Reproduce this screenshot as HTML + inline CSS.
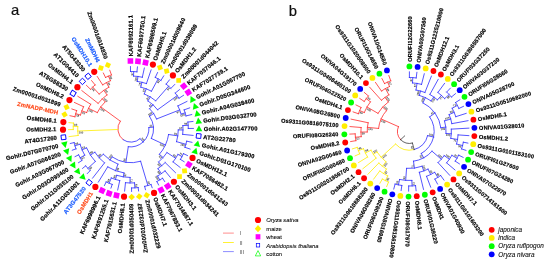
<!DOCTYPE html>
<html><head><meta charset="utf-8"><title>Phylogenetic trees</title>
<style>html,body{margin:0;padding:0;background:#fff}svg{display:block}</style></head>
<body>
<svg width="550" height="263" viewBox="0 0 550 263" font-family='"Liberation Sans", sans-serif'>
<rect width="550" height="263" fill="#fff"/>
<text x="10.9" y="15.4" font-size="14.8" fill="#111" stroke="#111" stroke-width="0.2">a</text>
<text x="288.7" y="15.7" font-size="14.8" fill="#111" stroke="#111" stroke-width="0.2">b</text>
<path d="M97.28 112.59A37.50 37.50 0 0 1 105.15 101.83M86.64 112.57A47.30 47.30 0 0 1 90.70 104.24M80.51 115.00A52.40 52.40 0 0 1 83.56 106.74M74.92 116.78A57.40 57.40 0 0 1 76.63 110.58M74.92 116.78L70.03 115.72M76.63 110.58L71.90 108.98M80.51 115.00L75.69 113.66M83.56 106.74L74.51 102.49M86.64 112.57L81.86 110.80M90.70 104.24L77.83 96.33M97.28 112.59L88.47 108.31M98.14 103.33A41.70 41.70 0 0 1 107.00 94.90M98.14 103.33L81.83 90.59M99.13 94.05A47.30 47.30 0 0 1 108.86 87.20M90.43 89.24A56.80 56.80 0 0 1 95.14 84.95M90.43 89.24L86.43 85.32M95.14 84.95L91.60 80.61M99.13 94.05L92.73 87.03M102.62 84.83A52.50 52.50 0 0 1 110.42 80.70M102.62 84.83L97.27 76.50M105.53 77.45A57.50 57.50 0 0 1 111.46 74.92M105.53 77.45L103.36 73.06M111.46 74.92L109.79 70.31M110.42 80.70L108.46 76.10M108.86 87.20L106.43 82.60M107.00 94.90L103.78 90.32M105.15 101.83L102.26 98.79M120.27 121.15L100.73 106.86M123.18 139.76A13.30 13.30 0 0 1 120.27 121.15" fill="none" stroke="#ff2a2a" stroke-width="0.8" stroke-linecap="square"/>
<path d="M78.10 135.49A53.30 53.30 0 0 1 77.76 126.54M78.10 135.49L69.06 136.60M73.20 129.57A57.80 57.80 0 0 1 73.50 123.10M73.20 129.57L68.60 129.62M73.50 123.10L68.93 122.63M77.76 126.54L73.26 126.33M117.71 129.50L77.74 131.02" fill="none" stroke="#ffee00" stroke-width="0.8" stroke-linecap="square"/>
<path d="M148.94 127.52A18.00 18.00 0 0 1 128.28 146.79M149.56 116.28A22.50 22.50 0 0 1 151.39 138.50M149.61 108.75A27.50 27.50 0 0 1 156.60 118.96M147.91 100.89A32.80 32.80 0 0 1 157.58 109.78M144.31 93.94A37.50 37.50 0 0 1 155.74 100.82M140.79 87.13A43.00 43.00 0 0 1 151.47 91.18M137.29 81.41A48.00 48.00 0 0 1 146.45 83.56M133.51 76.06A53.00 53.00 0 0 1 142.34 77.23M130.50 71.50A57.50 57.50 0 0 1 136.94 71.81M130.50 71.50L130.46 66.60M136.94 71.81L137.44 66.93M133.51 76.06L133.72 71.56M142.34 77.23L144.35 68.04M137.29 81.41L137.95 76.46M146.45 83.56L151.09 69.92M140.79 87.13L141.93 82.26M155.28 77.43A57.00 57.00 0 0 1 160.90 80.47M155.28 77.43L157.58 72.54M160.90 80.47L163.73 75.87M151.47 91.18L158.13 78.87M144.31 93.94L146.26 88.80M166.14 84.12A57.00 57.00 0 0 1 170.94 88.34M166.14 84.12L169.47 79.87M170.94 88.34L174.73 84.48M155.74 100.82L168.60 86.16M147.91 100.89L150.33 96.87M175.24 93.06A57.00 57.00 0 0 1 178.99 98.24M175.24 93.06L179.44 89.66M178.99 98.24L183.54 95.33M157.58 109.78L177.19 95.60M149.61 108.75L153.19 104.85M177.91 105.88A52.30 52.30 0 0 1 181.12 114.07M177.91 105.88L186.97 101.42M184.16 109.86A56.50 56.50 0 0 1 185.97 115.93M184.16 109.86L189.71 107.86M185.97 115.93L191.71 114.56M181.12 114.07L185.15 112.87M156.60 118.96L179.69 109.91M149.56 116.28L153.69 113.46M168.60 134.50A38.00 38.00 0 0 1 159.39 154.26M178.29 129.90A47.30 47.30 0 0 1 176.57 141.68M182.89 125.61A52.00 52.00 0 0 1 182.72 134.35M187.88 122.07A57.30 57.30 0 0 1 188.30 128.48M187.88 122.07L192.94 121.45M188.30 128.48L193.40 128.43M182.89 125.61L188.18 125.27M182.72 134.35L193.07 135.42M178.29 129.90L182.99 129.98M186.68 141.17A57.00 57.00 0 0 1 184.97 147.33M186.68 141.17L191.96 142.33M184.97 147.33L190.09 149.07M176.57 141.68L185.91 144.28M168.60 134.50L177.80 135.84M166.97 152.56A43.00 43.00 0 0 1 158.59 161.98M177.97 154.40A53.40 53.40 0 0 1 173.06 161.91M183.49 153.68A58.00 58.00 0 0 1 180.39 159.40M183.49 153.68L187.47 155.55M180.39 159.40L184.14 161.71M177.97 154.40L182.02 156.59M173.06 161.91L180.15 167.45M166.97 152.56L175.67 158.26M165.18 162.55A47.90 47.90 0 0 1 157.98 168.58M165.18 162.55L175.53 172.71M165.06 170.90A54.00 54.00 0 0 1 157.56 176.02M165.06 170.90L170.36 177.42M162.59 178.24A58.50 58.50 0 0 1 156.88 181.47M162.59 178.24L164.69 181.52M156.88 181.47L158.60 184.96M157.56 176.02L159.78 179.93M157.98 168.58L161.42 173.62M158.59 161.98L161.73 165.74M159.39 154.26L163.13 157.58M151.39 138.50L165.44 145.05M148.94 127.52L153.42 127.15M140.63 161.29A33.70 33.70 0 0 1 112.15 156.94M151.01 184.50A59.00 59.00 0 0 1 144.67 186.39M151.01 184.50L152.16 187.70M144.67 186.39L145.46 189.70M140.63 161.29L147.87 185.54M117.96 164.16A37.50 37.50 0 0 1 103.28 154.26M123.96 172.94A44.50 44.50 0 0 1 107.69 166.91M130.10 177.49A48.50 48.50 0 0 1 116.71 175.35M134.54 182.88A54.00 54.00 0 0 1 125.47 182.72M138.16 187.56A59.00 59.00 0 0 1 131.56 188.00M138.16 187.56L138.57 190.94M131.56 188.00L131.59 191.40M134.54 182.88L134.87 187.87M125.47 182.72L124.60 191.07M130.10 177.49L130.00 182.99M119.74 180.59A52.80 52.80 0 0 1 111.26 177.97M119.74 180.59L117.70 189.97M112.21 184.40A58.50 58.50 0 0 1 106.13 181.95M112.21 184.40L110.96 188.09M106.13 181.95L104.47 185.48M111.26 177.97L109.13 183.26M116.71 175.35L115.45 179.46M123.96 172.94L123.33 176.89M107.69 166.91L98.31 182.15M117.96 164.16L115.53 170.72M104.52 162.88A43.00 43.00 0 0 1 94.82 152.23M104.52 162.88L92.57 178.16M95.30 161.53A48.30 48.30 0 0 1 86.56 147.92M90.11 170.69A58.40 58.40 0 0 1 85.70 165.85M90.11 170.69L87.31 173.55M85.70 165.85L82.59 168.38M95.30 161.53L87.83 168.34M84.69 155.19A53.20 53.20 0 0 1 80.03 144.23M81.86 160.55A58.40 58.40 0 0 1 78.63 154.85M81.86 160.55L78.49 162.71M78.63 154.85L75.05 156.62M84.69 155.19L80.16 157.75M75.97 148.86A58.50 58.50 0 0 1 74.10 142.58M75.97 148.86L72.31 150.19M74.10 142.58L70.30 143.48M80.03 144.23L74.95 145.75M86.56 147.92L82.05 149.84M94.82 152.23L90.36 155.09M103.28 154.26L99.22 157.96M112.15 156.94L110.03 160.09M128.28 146.79L125.91 162.31M140.07 138.73L143.28 142.16M140.07 138.73A13.30 13.30 0 0 1 123.18 139.76" fill="none" stroke="#2a2aff" stroke-width="0.8" stroke-linecap="square"/>
<text x="76.03" y="115.41" transform="rotate(375.5 76.03 115.41)" text-anchor="start" font-size="2.8" font-weight="bold" fill="#333" dy="0.95">78</text>
<text x="82.06" y="112.58" transform="rotate(380.3 82.06 112.58)" text-anchor="start" font-size="2.8" font-weight="bold" fill="#333" dy="0.95">93</text>
<text x="88.49" y="110.09" transform="rotate(385.9 88.49 110.09)" text-anchor="start" font-size="2.8" font-weight="bold" fill="#333" dy="0.95">100</text>
<text x="92.08" y="88.70" transform="rotate(407.6 92.08 88.70)" text-anchor="start" font-size="2.8" font-weight="bold" fill="#333" dy="0.95">96</text>
<text x="110.24" y="76.21" transform="rotate(426.9 110.24 76.21)" text-anchor="start" font-size="2.8" font-weight="bold" fill="#333" dy="0.95">98</text>
<text x="108.22" y="82.56" transform="rotate(422.1 108.22 82.56)" text-anchor="start" font-size="2.8" font-weight="bold" fill="#333" dy="0.95">99</text>
<text x="105.55" y="90.05" transform="rotate(414.9 105.55 90.05)" text-anchor="start" font-size="2.8" font-weight="bold" fill="#333" dy="0.95">99</text>
<text x="103.97" y="98.26" transform="rotate(406.4 103.97 98.26)" text-anchor="start" font-size="2.8" font-weight="bold" fill="#333" dy="0.95">100</text>
<text x="100.44" y="108.62" transform="rotate(396.2 100.44 108.62)" text-anchor="start" font-size="2.8" font-weight="bold" fill="#333" dy="0.95">100</text>
<text x="74.13" y="124.77" transform="rotate(362.6 74.13 124.77)" text-anchor="start" font-size="2.8" font-weight="bold" fill="#333" dy="0.95">83</text>
<text x="78.60" y="132.59" transform="rotate(357.8 78.60 132.59)" text-anchor="start" font-size="2.8" font-weight="bold" fill="#333" dy="0.95">100</text>
<text x="132.09" y="72.29" transform="rotate(-87.3 132.09 72.29)" text-anchor="end" font-size="2.8" font-weight="bold" fill="#333" dy="0.95">97</text>
<text x="136.26" y="77.04" transform="rotate(-82.5 136.26 77.04)" text-anchor="end" font-size="2.8" font-weight="bold" fill="#333" dy="0.95">100</text>
<text x="140.19" y="82.67" transform="rotate(-76.8 140.19 82.67)" text-anchor="end" font-size="2.8" font-weight="bold" fill="#333" dy="0.95">78</text>
<text x="159.16" y="80.34" transform="rotate(-61.6 159.16 80.34)" text-anchor="end" font-size="2.8" font-weight="bold" fill="#333" dy="0.95">92</text>
<text x="144.48" y="88.98" transform="rotate(-69.2 144.48 88.98)" text-anchor="end" font-size="2.8" font-weight="bold" fill="#333" dy="0.95">97</text>
<text x="169.28" y="87.82" transform="rotate(-48.7 169.28 87.82)" text-anchor="end" font-size="2.8" font-weight="bold" fill="#333" dy="0.95">94</text>
<text x="148.55" y="96.73" transform="rotate(-59.0 148.55 96.73)" text-anchor="end" font-size="2.8" font-weight="bold" fill="#333" dy="0.95">87</text>
<text x="177.48" y="97.37" transform="rotate(-35.9 177.48 97.37)" text-anchor="end" font-size="2.8" font-weight="bold" fill="#333" dy="0.95">100</text>
<text x="151.47" y="104.36" transform="rotate(-47.4 151.47 104.36)" text-anchor="end" font-size="2.8" font-weight="bold" fill="#333" dy="0.95">61</text>
<text x="184.84" y="114.63" transform="rotate(-16.6 184.84 114.63)" text-anchor="end" font-size="2.8" font-weight="bold" fill="#333" dy="0.95">100</text>
<text x="179.53" y="111.69" transform="rotate(-21.4 179.53 111.69)" text-anchor="end" font-size="2.8" font-weight="bold" fill="#333" dy="0.95">97</text>
<text x="152.12" y="112.59" transform="rotate(-34.4 152.12 112.59)" text-anchor="end" font-size="2.8" font-weight="bold" fill="#333" dy="0.95">100</text>
<text x="187.28" y="123.72" transform="rotate(-3.7 187.28 123.72)" text-anchor="end" font-size="2.8" font-weight="bold" fill="#333" dy="0.95">99</text>
<text x="182.22" y="128.37" transform="rotate(1.1 182.22 128.37)" text-anchor="end" font-size="2.8" font-weight="bold" fill="#333" dy="0.95">97</text>
<text x="184.72" y="145.60" transform="rotate(15.5 184.72 145.60)" text-anchor="end" font-size="2.8" font-weight="bold" fill="#333" dy="0.95">100</text>
<text x="177.24" y="134.14" transform="rotate(8.3 177.24 134.14)" text-anchor="end" font-size="2.8" font-weight="bold" fill="#333" dy="0.95">91</text>
<text x="182.08" y="154.80" transform="rotate(28.4 182.08 154.80)" text-anchor="end" font-size="2.8" font-weight="bold" fill="#333" dy="0.95">77</text>
<text x="175.88" y="156.48" transform="rotate(33.2 175.88 156.48)" text-anchor="end" font-size="2.8" font-weight="bold" fill="#333" dy="0.95">92</text>
<text x="157.99" y="180.02" transform="rotate(60.5 157.99 180.02)" text-anchor="end" font-size="2.8" font-weight="bold" fill="#333" dy="0.95">100</text>
<text x="159.65" y="173.86" transform="rotate(55.7 159.65 173.86)" text-anchor="end" font-size="2.8" font-weight="bold" fill="#333" dy="0.95">99</text>
<text x="159.99" y="166.16" transform="rotate(50.1 159.99 166.16)" text-anchor="end" font-size="2.8" font-weight="bold" fill="#333" dy="0.95">69</text>
<text x="161.47" y="158.24" transform="rotate(41.7 161.47 158.24)" text-anchor="end" font-size="2.8" font-weight="bold" fill="#333" dy="0.95">82</text>
<text x="164.04" y="146.16" transform="rotate(25.0 164.04 146.16)" text-anchor="end" font-size="2.8" font-weight="bold" fill="#333" dy="0.95">100</text>
<text x="152.50" y="125.62" transform="rotate(-4.7 152.50 125.62)" text-anchor="end" font-size="2.8" font-weight="bold" fill="#333" dy="0.95">41</text>
<text x="149.17" y="184.31" transform="rotate(73.4 149.17 184.31)" text-anchor="end" font-size="2.8" font-weight="bold" fill="#333" dy="0.95">87</text>
<text x="136.41" y="186.97" transform="rotate(86.2 136.41 186.97)" text-anchor="end" font-size="2.8" font-weight="bold" fill="#333" dy="0.95">51</text>
<text x="131.61" y="182.22" transform="rotate(271.1 131.61 182.22)" text-anchor="start" font-size="2.8" font-weight="bold" fill="#333" dy="0.95">71</text>
<text x="107.95" y="181.92" transform="rotate(292.0 107.95 181.92)" text-anchor="start" font-size="2.8" font-weight="bold" fill="#333" dy="0.95">98</text>
<text x="114.15" y="178.22" transform="rotate(287.1 114.15 178.22)" text-anchor="start" font-size="2.8" font-weight="bold" fill="#333" dy="0.95">99</text>
<text x="125.04" y="176.35" transform="rotate(279.1 125.04 176.35)" text-anchor="start" font-size="2.8" font-weight="bold" fill="#333" dy="0.95">87</text>
<text x="117.31" y="170.53" transform="rotate(290.3 117.31 170.53)" text-anchor="start" font-size="2.8" font-weight="bold" fill="#333" dy="0.95">88</text>
<text x="89.50" y="168.98" transform="rotate(317.7 89.50 168.98)" text-anchor="start" font-size="2.8" font-weight="bold" fill="#333" dy="0.95">98</text>
<text x="81.65" y="158.75" transform="rotate(330.5 81.65 158.75)" text-anchor="start" font-size="2.8" font-weight="bold" fill="#333" dy="0.95">63</text>
<text x="75.26" y="143.98" transform="rotate(343.4 75.26 143.98)" text-anchor="start" font-size="2.8" font-weight="bold" fill="#333" dy="0.95">98</text>
<text x="82.16" y="148.05" transform="rotate(336.9 82.16 148.05)" text-anchor="start" font-size="2.8" font-weight="bold" fill="#333" dy="0.95">61</text>
<text x="90.16" y="153.32" transform="rotate(327.3 90.16 153.32)" text-anchor="start" font-size="2.8" font-weight="bold" fill="#333" dy="0.95">85</text>
<text x="98.73" y="156.24" transform="rotate(317.7 98.73 156.24)" text-anchor="start" font-size="2.8" font-weight="bold" fill="#333" dy="0.95">89</text>
<text x="109.15" y="158.53" transform="rotate(304.0 109.15 158.53)" text-anchor="start" font-size="2.8" font-weight="bold" fill="#333" dy="0.95">100</text>
<text x="124.44" y="161.28" transform="rotate(278.7 124.44 161.28)" text-anchor="start" font-size="2.8" font-weight="bold" fill="#333" dy="0.95">66</text>
<text x="143.90" y="140.49" transform="rotate(47.0 143.90 140.49)" text-anchor="end" font-size="2.8" font-weight="bold" fill="#333" dy="0.95">58</text>
<rect x="127.61" y="58.20" width="5.6" height="5.6" fill="#ff00ff" transform="rotate(-0.5 130.41 61.00)"/>
<text x="130.37" y="56.30" transform="rotate(-90.50 130.37 56.30)" text-anchor="start" font-size="5.85" letter-spacing="0.14" font-weight="bold" fill="#000" stroke="#000" stroke-width="0.18" dy="2.58">KAF6992161.1</text>
<rect x="135.22" y="58.56" width="5.6" height="5.6" fill="#ff00ff" transform="rotate(5.9 138.02 61.36)"/>
<text x="138.51" y="56.69" transform="rotate(-84.07 138.51 56.69)" text-anchor="start" font-size="5.85" letter-spacing="0.14" font-weight="bold" fill="#000" stroke="#000" stroke-width="0.18" dy="2.58">KAF6997750.1</text>
<rect x="142.75" y="59.77" width="5.6" height="5.6" fill="#ff00ff" transform="rotate(12.4 145.55 62.57)"/>
<text x="146.55" y="57.98" transform="rotate(-77.65 146.55 57.98)" text-anchor="start" font-size="5.85" letter-spacing="0.14" font-weight="bold" fill="#000" stroke="#000" stroke-width="0.18" dy="2.58">KAF6986509.1</text>
<circle cx="152.89" cy="64.62" r="3.1" fill="#ff0000"/>
<text x="154.41" y="60.17" transform="rotate(-71.22 154.41 60.17)" text-anchor="start" font-size="5.85" letter-spacing="0.14" font-weight="bold" fill="#000" stroke="#000" stroke-width="0.18" dy="2.58">OsMDH5.1</text>
<rect x="157.61" y="65.13" width="4.7" height="4.7" fill="#ffee00" transform="rotate(70.2 159.96 67.48)"/>
<text x="161.96" y="63.22" transform="rotate(-64.79 161.96 63.22)" text-anchor="start" font-size="5.85" letter-spacing="0.14" font-weight="bold" fill="#000" stroke="#000" stroke-width="0.18" dy="2.58">Zm00001d009640</text>
<rect x="164.32" y="68.75" width="4.7" height="4.7" fill="#ffee00" transform="rotate(76.6 166.67 71.10)"/>
<text x="169.13" y="67.10" transform="rotate(-58.37 169.13 67.10)" text-anchor="start" font-size="5.85" letter-spacing="0.14" font-weight="bold" fill="#000" stroke="#000" stroke-width="0.18" dy="2.58">Zm00001d039089</text>
<circle cx="172.92" cy="75.46" r="3.1" fill="#ff0000"/>
<text x="175.82" y="71.76" transform="rotate(-51.94 175.82 71.76)" text-anchor="start" font-size="5.85" letter-spacing="0.14" font-weight="bold" fill="#000" stroke="#000" stroke-width="0.18" dy="2.58">OsMDH1.2</text>
<rect x="176.30" y="78.14" width="4.7" height="4.7" fill="#ffee00" transform="rotate(89.5 178.65 80.49)"/>
<text x="181.95" y="77.14" transform="rotate(-45.51 181.95 77.14)" text-anchor="start" font-size="5.85" letter-spacing="0.14" font-weight="bold" fill="#000" stroke="#000" stroke-width="0.18" dy="2.58">Zm00001d044042</text>
<rect x="180.98" y="83.33" width="5.6" height="5.6" fill="#ff00ff" transform="rotate(50.9 183.78 86.13)"/>
<text x="187.43" y="83.17" transform="rotate(-39.08 187.43 83.17)" text-anchor="start" font-size="5.85" letter-spacing="0.14" font-weight="bold" fill="#000" stroke="#000" stroke-width="0.18" dy="2.58">KAF7037046.1</text>
<rect x="185.45" y="89.51" width="5.6" height="5.6" fill="#ff00ff" transform="rotate(57.3 188.25 92.31)"/>
<text x="192.21" y="89.77" transform="rotate(-32.66 192.21 89.77)" text-anchor="start" font-size="5.85" letter-spacing="0.14" font-weight="bold" fill="#000" stroke="#000" stroke-width="0.18" dy="2.58">KAF7027739.1</text>
<path d="M192.00 95.75L195.30 101.75L188.70 101.75Z" fill="#00ff00" transform="rotate(-26.2 192.00 98.95)"/>
<text x="196.21" y="96.87" transform="rotate(-26.23 196.21 96.87)" text-anchor="start" font-size="5.85" letter-spacing="0.14" font-weight="bold" fill="#000" stroke="#000" stroke-width="0.18" dy="2.58">Gohir.A01G057700</text>
<path d="M194.98 102.76L198.28 108.76L191.68 108.76Z" fill="#00ff00" transform="rotate(-19.8 194.98 105.96)"/>
<text x="199.40" y="104.37" transform="rotate(-19.80 199.40 104.37)" text-anchor="start" font-size="5.85" letter-spacing="0.14" font-weight="bold" fill="#000" stroke="#000" stroke-width="0.18" dy="2.58">Gohir.D05G344600</text>
<path d="M197.16 110.07L200.46 116.07L193.86 116.07Z" fill="#00ff00" transform="rotate(-13.4 197.16 113.27)"/>
<text x="201.73" y="112.18" transform="rotate(-13.38 201.73 112.18)" text-anchor="start" font-size="5.85" letter-spacing="0.14" font-weight="bold" fill="#000" stroke="#000" stroke-width="0.18" dy="2.58">Gohir.A04G038400</text>
<path d="M198.50 117.57L201.80 123.57L195.20 123.57Z" fill="#00ff00" transform="rotate(-6.9 198.50 120.77)"/>
<text x="203.17" y="120.20" transform="rotate(-6.95 203.17 120.20)" text-anchor="start" font-size="5.85" letter-spacing="0.14" font-weight="bold" fill="#000" stroke="#000" stroke-width="0.18" dy="2.58">Gohir.D03G032700</text>
<path d="M199.00 125.18L202.30 131.18L195.70 131.18Z" fill="#00ff00" transform="rotate(-0.5 199.00 128.38)"/>
<text x="203.70" y="128.34" transform="rotate(-0.52 203.70 128.34)" text-anchor="start" font-size="5.85" letter-spacing="0.14" font-weight="bold" fill="#000" stroke="#000" stroke-width="0.18" dy="2.58">Gohir.A02G147700</text>
<rect x="196.34" y="133.70" width="4.6" height="4.6" fill="#fff" stroke="#0000ff" stroke-width="0.9" transform="rotate(95.9 198.64 136.00)"/>
<text x="203.31" y="136.48" transform="rotate(5.91 203.31 136.48)" text-anchor="start" font-size="5.85" letter-spacing="0.14" font-weight="bold" fill="#000" stroke="#000" stroke-width="0.18" dy="2.58">AT2G22780</text>
<path d="M197.43 140.32L200.73 146.32L194.13 146.32Z" fill="#00ff00" transform="rotate(12.3 197.43 143.52)"/>
<text x="202.02" y="144.53" transform="rotate(12.33 202.02 144.53)" text-anchor="start" font-size="5.85" letter-spacing="0.14" font-weight="bold" fill="#000" stroke="#000" stroke-width="0.18" dy="2.58">Gohir.A01G179300</text>
<path d="M195.39 147.67L198.69 153.67L192.09 153.67Z" fill="#00ff00" transform="rotate(18.8 195.39 150.87)"/>
<text x="199.84" y="152.38" transform="rotate(18.76 199.84 152.38)" text-anchor="start" font-size="5.85" letter-spacing="0.14" font-weight="bold" fill="#000" stroke="#000" stroke-width="0.18" dy="2.58">Gohir.D01G170100</text>
<circle cx="192.54" cy="157.94" r="3.1" fill="#ff0000"/>
<text x="196.79" y="159.94" transform="rotate(25.19 196.79 159.94)" text-anchor="start" font-size="5.85" letter-spacing="0.14" font-weight="bold" fill="#000" stroke="#000" stroke-width="0.18" dy="2.58">OsMDH12.1</text>
<rect x="186.11" y="161.84" width="5.6" height="5.6" fill="#ff00ff" transform="rotate(121.6 188.91 164.64)"/>
<text x="192.91" y="167.11" transform="rotate(31.61 192.91 167.11)" text-anchor="start" font-size="5.85" letter-spacing="0.14" font-weight="bold" fill="#000" stroke="#000" stroke-width="0.18" dy="2.58">KAF7056482.1</text>
<rect x="182.21" y="168.55" width="4.7" height="4.7" fill="#ffee00" transform="rotate(173.0 184.56 170.90)"/>
<text x="188.26" y="173.80" transform="rotate(38.04 188.26 173.80)" text-anchor="start" font-size="5.85" letter-spacing="0.14" font-weight="bold" fill="#000" stroke="#000" stroke-width="0.18" dy="2.58">Zm00001d041243</text>
<rect x="177.18" y="174.28" width="4.7" height="4.7" fill="#ffee00" transform="rotate(179.5 179.53 176.63)"/>
<text x="182.88" y="179.93" transform="rotate(44.47 182.88 179.93)" text-anchor="start" font-size="5.85" letter-spacing="0.14" font-weight="bold" fill="#000" stroke="#000" stroke-width="0.18" dy="2.58">Zm00001d034241</text>
<circle cx="173.89" cy="181.77" r="3.1" fill="#ff0000"/>
<text x="176.86" y="185.41" transform="rotate(50.89 176.86 185.41)" text-anchor="start" font-size="5.85" letter-spacing="0.14" font-weight="bold" fill="#000" stroke="#000" stroke-width="0.18" dy="2.58">OsMDH3.1</text>
<rect x="164.92" y="183.44" width="5.6" height="5.6" fill="#ff00ff" transform="rotate(147.3 167.72 186.24)"/>
<text x="170.25" y="190.19" transform="rotate(57.32 170.25 190.19)" text-anchor="start" font-size="5.85" letter-spacing="0.14" font-weight="bold" fill="#000" stroke="#000" stroke-width="0.18" dy="2.58">KAF7014887.1</text>
<rect x="158.28" y="187.19" width="5.6" height="5.6" fill="#ff00ff" transform="rotate(153.7 161.08 189.99)"/>
<text x="163.16" y="194.20" transform="rotate(63.75 163.16 194.20)" text-anchor="start" font-size="5.85" letter-spacing="0.14" font-weight="bold" fill="#000" stroke="#000" stroke-width="0.18" dy="2.58">KAF7067893.1</text>
<circle cx="154.06" cy="192.97" r="3.1" fill="#ff0000"/>
<text x="155.66" y="197.39" transform="rotate(70.17 155.66 197.39)" text-anchor="start" font-size="5.85" letter-spacing="0.14" font-weight="bold" fill="#000" stroke="#000" stroke-width="0.18" dy="2.58">OsMDH7.1</text>
<rect x="144.41" y="192.80" width="4.7" height="4.7" fill="#ffee00" transform="rotate(211.6 146.76 195.15)"/>
<text x="147.85" y="199.72" transform="rotate(76.60 147.85 199.72)" text-anchor="start" font-size="5.85" letter-spacing="0.14" font-weight="bold" fill="#000" stroke="#000" stroke-width="0.18" dy="2.58">Zm00001d032229</text>
<rect x="136.90" y="194.15" width="4.7" height="4.7" fill="#ffee00" transform="rotate(218.0 139.25 196.50)"/>
<text x="140.04" y="202.95" transform="rotate(263.03 140.04 202.95)" text-anchor="end" font-size="5.85" letter-spacing="0.14" font-weight="bold" fill="#000" stroke="#000" stroke-width="0.18" dy="1.58">Zm00001d032187</text>
<rect x="129.30" y="194.65" width="4.7" height="4.7" fill="#ffee00" transform="rotate(224.5 131.65 197.00)"/>
<text x="131.71" y="203.50" transform="rotate(269.46 131.71 203.50)" text-anchor="end" font-size="5.85" letter-spacing="0.14" font-weight="bold" fill="#000" stroke="#000" stroke-width="0.18" dy="1.58">Zm00001d050409</text>
<circle cx="124.03" cy="196.64" r="3.1" fill="#ff0000"/>
<text x="123.36" y="203.11" transform="rotate(275.88 123.36 203.11)" text-anchor="end" font-size="5.85" letter-spacing="0.14" font-weight="bold" fill="#000" stroke="#000" stroke-width="0.18" dy="1.58">OsMDH8.1</text>
<rect x="113.70" y="192.64" width="5.6" height="5.6" fill="#ff00ff" transform="rotate(192.3 116.50 195.44)"/>
<text x="115.12" y="201.79" transform="rotate(282.31 115.12 201.79)" text-anchor="end" font-size="5.85" letter-spacing="0.14" font-weight="bold" fill="#000" stroke="#000" stroke-width="0.18" dy="1.58">KAF7015631.1</text>
<rect x="106.36" y="190.60" width="5.6" height="5.6" fill="#ff00ff" transform="rotate(198.7 109.16 193.40)"/>
<text x="107.07" y="199.55" transform="rotate(288.74 107.07 199.55)" text-anchor="end" font-size="5.85" letter-spacing="0.14" font-weight="bold" fill="#000" stroke="#000" stroke-width="0.18" dy="1.58">KAF6991255.1</text>
<rect x="99.29" y="187.75" width="5.6" height="5.6" fill="#ff00ff" transform="rotate(205.2 102.09 190.55)"/>
<text x="99.32" y="196.43" transform="rotate(295.16 99.32 196.43)" text-anchor="end" font-size="5.85" letter-spacing="0.14" font-weight="bold" fill="#000" stroke="#000" stroke-width="0.18" dy="1.58">KAF6998996.1</text>
<circle cx="95.38" cy="186.92" r="3.1" fill="#ff0000"/>
<text x="91.97" y="192.46" transform="rotate(301.59 91.97 192.46)" text-anchor="end" font-size="5.85" letter-spacing="0.14" font-weight="bold" fill="#ff4a1a" stroke="#ff4a1a" stroke-width="0.18" dy="1.58">OsMDH1</text>
<rect x="86.82" y="180.27" width="4.6" height="4.6" fill="#fff" stroke="#0000ff" stroke-width="0.9" transform="rotate(218.0 89.12 182.57)"/>
<text x="85.11" y="187.69" transform="rotate(308.02 85.11 187.69)" text-anchor="end" font-size="5.85" letter-spacing="0.14" font-weight="bold" fill="#1a5cff" stroke="#1a5cff" stroke-width="0.18" dy="1.58">AT3G47520</text>
<path d="M83.38 174.35L86.68 180.35L80.08 180.35Z" fill="#00ff00" transform="rotate(134.4 83.38 177.55)"/>
<text x="78.83" y="182.19" transform="rotate(314.44 78.83 182.19)" text-anchor="end" font-size="5.85" letter-spacing="0.14" font-weight="bold" fill="#000" stroke="#000" stroke-width="0.18" dy="1.58">Gohir.A11G031001</text>
<path d="M78.25 168.71L81.55 174.71L74.95 174.71Z" fill="#00ff00" transform="rotate(140.9 78.25 171.91)"/>
<text x="73.21" y="176.01" transform="rotate(320.87 73.21 176.01)" text-anchor="end" font-size="5.85" letter-spacing="0.14" font-weight="bold" fill="#000" stroke="#000" stroke-width="0.18" dy="1.58">Gohir.D11G035100</text>
<path d="M73.78 162.54L77.08 168.54L70.48 168.54Z" fill="#00ff00" transform="rotate(147.3 73.78 165.74)"/>
<text x="68.31" y="169.25" transform="rotate(327.30 68.31 169.25)" text-anchor="end" font-size="5.85" letter-spacing="0.14" font-weight="bold" fill="#000" stroke="#000" stroke-width="0.18" dy="1.58">Gohir.D03G093400</text>
<path d="M70.03 155.90L73.33 161.90L66.73 161.90Z" fill="#00ff00" transform="rotate(153.7 70.03 159.10)"/>
<text x="64.20" y="161.98" transform="rotate(333.73 64.20 161.98)" text-anchor="end" font-size="5.85" letter-spacing="0.14" font-weight="bold" fill="#000" stroke="#000" stroke-width="0.18" dy="1.58">Gohir.A03G067000</text>
<path d="M67.04 148.89L70.34 154.89L63.74 154.89Z" fill="#00ff00" transform="rotate(160.2 67.04 152.09)"/>
<text x="60.93" y="154.29" transform="rotate(340.15 60.93 154.29)" text-anchor="end" font-size="5.85" letter-spacing="0.14" font-weight="bold" fill="#000" stroke="#000" stroke-width="0.18" dy="1.58">Gohir.A07G066200</text>
<path d="M64.86 141.58L68.16 147.58L61.56 147.58Z" fill="#00ff00" transform="rotate(166.6 64.86 144.78)"/>
<text x="58.53" y="146.29" transform="rotate(346.58 58.53 146.29)" text-anchor="end" font-size="5.85" letter-spacing="0.14" font-weight="bold" fill="#000" stroke="#000" stroke-width="0.18" dy="1.58">Gohir.D07G070700</text>
<rect x="61.21" y="134.98" width="4.6" height="4.6" fill="#fff" stroke="#0000ff" stroke-width="0.9" transform="rotate(263.0 63.51 137.28)"/>
<text x="57.05" y="138.07" transform="rotate(353.01 57.05 138.07)" text-anchor="end" font-size="5.85" letter-spacing="0.14" font-weight="bold" fill="#000" stroke="#000" stroke-width="0.18" dy="1.58">AT4G17260</text>
<circle cx="63.00" cy="129.67" r="3.1" fill="#ff0000"/>
<text x="56.50" y="129.74" transform="rotate(359.43 56.50 129.74)" text-anchor="end" font-size="5.85" letter-spacing="0.14" font-weight="bold" fill="#000" stroke="#000" stroke-width="0.18" dy="1.58">OsMDH2.1</text>
<circle cx="63.36" cy="122.06" r="3.1" fill="#ff0000"/>
<text x="56.89" y="121.39" transform="rotate(365.86 56.89 121.39)" text-anchor="end" font-size="5.85" letter-spacing="0.14" font-weight="bold" fill="#000" stroke="#000" stroke-width="0.18" dy="1.58">OsMDH6.1</text>
<rect x="62.21" y="112.18" width="4.7" height="4.7" fill="#ffee00" transform="rotate(327.3 64.56 114.53)"/>
<text x="58.21" y="113.14" transform="rotate(372.29 58.21 113.14)" text-anchor="end" font-size="5.85" letter-spacing="0.14" font-weight="bold" fill="#ff4a1a" stroke="#ff4a1a" stroke-width="0.18" dy="1.58">ZmNADP-MDH</text>
<rect x="64.25" y="104.83" width="4.7" height="4.7" fill="#ffee00" transform="rotate(333.7 66.60 107.18)"/>
<text x="60.44" y="105.10" transform="rotate(378.71 60.44 105.10)" text-anchor="end" font-size="5.85" letter-spacing="0.14" font-weight="bold" fill="#000" stroke="#000" stroke-width="0.18" dy="1.58">Zm00001d031899</text>
<circle cx="69.44" cy="100.11" r="3.1" fill="#ff0000"/>
<text x="63.56" y="97.35" transform="rotate(385.14 63.56 97.35)" text-anchor="end" font-size="5.85" letter-spacing="0.14" font-weight="bold" fill="#000" stroke="#000" stroke-width="0.18" dy="1.58">OsMDH8.2</text>
<rect x="70.76" y="91.10" width="4.6" height="4.6" fill="#fff" stroke="#0000ff" stroke-width="0.9" transform="rotate(301.6 73.06 93.40)"/>
<text x="67.53" y="90.00" transform="rotate(391.57 67.53 90.00)" text-anchor="end" font-size="5.85" letter-spacing="0.14" font-weight="bold" fill="#000" stroke="#000" stroke-width="0.18" dy="1.58">AT5G58330</text>
<circle cx="77.41" cy="87.14" r="3.1" fill="#ff0000"/>
<text x="72.29" y="83.14" transform="rotate(398.00 72.29 83.14)" text-anchor="end" font-size="5.85" letter-spacing="0.14" font-weight="bold" fill="#000" stroke="#000" stroke-width="0.18" dy="1.58">OsMDH4.1</text>
<rect x="80.13" y="79.10" width="4.6" height="4.6" fill="#fff" stroke="#0000ff" stroke-width="0.9" transform="rotate(314.4 82.43 81.40)"/>
<text x="77.79" y="76.85" transform="rotate(404.42 77.79 76.85)" text-anchor="end" font-size="5.85" letter-spacing="0.14" font-weight="bold" fill="#000" stroke="#000" stroke-width="0.18" dy="1.58">AT1G04410</text>
<rect x="85.77" y="73.97" width="4.6" height="4.6" fill="#fff" stroke="#0000ff" stroke-width="0.9" transform="rotate(320.8 88.07 76.27)"/>
<text x="83.96" y="71.23" transform="rotate(410.85 83.96 71.23)" text-anchor="end" font-size="5.85" letter-spacing="0.14" font-weight="bold" fill="#000" stroke="#000" stroke-width="0.18" dy="1.58">AT5G43330</text>
<circle cx="94.24" cy="71.79" r="3.1" fill="#ff0000"/>
<text x="90.73" y="66.32" transform="rotate(417.28 90.73 66.32)" text-anchor="end" font-size="5.85" letter-spacing="0.14" font-weight="bold" fill="#1a5cff" stroke="#1a5cff" stroke-width="0.18" dy="1.58">OsMDH10.1</text>
<rect x="98.53" y="65.69" width="4.7" height="4.7" fill="#ffee00" transform="rotate(378.7 100.88 68.04)"/>
<text x="98.00" y="62.21" transform="rotate(423.70 98.00 62.21)" text-anchor="end" font-size="5.85" letter-spacing="0.14" font-weight="bold" fill="#1a5cff" stroke="#1a5cff" stroke-width="0.18" dy="1.58">ZmMDH4</text>
<rect x="105.54" y="62.70" width="4.7" height="4.7" fill="#ffee00" transform="rotate(385.1 107.89 65.05)"/>
<text x="105.68" y="58.93" transform="rotate(430.13 105.68 58.93)" text-anchor="end" font-size="5.85" letter-spacing="0.14" font-weight="bold" fill="#000" stroke="#000" stroke-width="0.18" dy="1.58">Zm00001d014830</text>
<path d="M378.55 128.45A31.00 31.00 0 0 1 386.45 110.66M367.20 132.00A42.20 42.20 0 0 1 368.12 122.75M361.18 136.66A48.50 48.50 0 0 1 361.07 127.49M355.88 140.67A54.30 54.30 0 0 1 355.15 133.86M355.88 140.67L350.66 141.56M355.15 133.86L349.86 134.09M361.18 136.66L355.41 137.27M361.07 127.49L350.00 126.57M367.20 132.00L360.90 132.08M368.12 122.75L351.10 119.14M378.55 128.45L367.40 127.35M377.98 113.33A36.30 36.30 0 0 1 388.29 101.97M364.23 112.50A49.00 49.00 0 0 1 370.41 101.82M358.40 113.74A54.00 54.00 0 0 1 361.04 107.46M358.40 113.74L353.12 111.90M361.04 107.46L356.03 104.97M364.23 112.50L359.62 110.56M364.20 101.40A54.30 54.30 0 0 1 368.35 95.95M364.20 101.40L359.79 98.47M368.35 95.95L364.34 92.49M370.41 101.82L366.19 98.61M377.98 113.33L366.98 106.97M381.36 100.23A42.00 42.00 0 0 1 388.89 94.85M381.36 100.23L369.61 87.13M381.43 91.03A49.20 49.20 0 0 1 389.54 86.49M381.43 91.03L375.51 82.47M384.53 83.57A54.00 54.00 0 0 1 390.76 80.82M384.53 83.57L381.95 78.60M390.76 80.82L388.83 75.56M389.54 86.49L387.60 82.09M388.89 94.85L385.38 88.56M388.29 101.97L384.98 97.33M386.45 110.66L382.53 107.10M398.43 126.63L381.07 118.92M400.62 139.68A12.00 12.00 0 0 1 398.43 126.63" fill="none" stroke="#ff2a2a" stroke-width="0.8" stroke-linecap="square"/>
<path d="M385.92 161.76A38.30 38.30 0 0 1 377.03 151.97M386.42 169.03A44.00 44.00 0 0 1 378.76 163.08M387.70 175.88A49.40 49.40 0 0 1 379.74 171.00M388.52 182.06A54.70 54.70 0 0 1 382.32 179.03M388.52 182.06L386.65 186.59M382.32 179.03L379.90 183.29M387.70 175.88L385.37 180.64M379.74 171.00L373.61 179.16M386.42 169.03L383.61 173.63M378.76 163.08L367.90 174.28M385.92 161.76L382.43 166.27M376.05 158.16A42.70 42.70 0 0 1 371.02 150.21M376.05 158.16L362.85 168.72M367.58 157.04A49.00 49.00 0 0 1 363.52 148.71M367.58 157.04L358.53 162.56M359.68 153.82A54.50 54.50 0 0 1 357.27 147.39M359.68 153.82L355.03 155.91M357.27 147.39L352.39 148.88M363.52 148.71L358.37 150.64M371.02 150.21L365.35 152.97M377.03 151.97L373.31 154.33M395.56 144.07L381.05 157.25M414.14 149.59A18.70 18.70 0 0 1 395.56 144.07" fill="none" stroke="#ffee00" stroke-width="0.8" stroke-linecap="square"/>
<path d="M429.68 116.88A25.00 25.00 0 0 1 421.29 153.49M422.95 102.84A31.70 31.70 0 0 1 440.87 127.72M419.34 95.34A37.50 37.50 0 0 1 431.04 100.87M416.00 90.02A42.00 42.00 0 0 1 424.92 92.47M412.47 82.90A48.70 48.70 0 0 1 421.56 84.34M409.40 77.50A54.00 54.00 0 0 1 416.20 77.93M409.40 77.50L409.40 71.90M416.20 77.93L416.90 72.37M412.47 82.90L412.80 77.61M421.56 84.34L424.28 73.79M416.00 90.02L417.05 83.40M424.92 92.47L431.43 76.12M419.34 95.34L420.53 91.00M429.86 94.47A42.30 42.30 0 0 1 437.47 99.85M429.86 94.47L438.22 79.33M437.89 92.50A48.30 48.30 0 0 1 444.72 98.56M437.89 92.50L444.56 83.37M446.70 92.03A54.30 54.30 0 0 1 451.37 97.04M446.70 92.03L450.34 88.18M451.37 97.04L455.46 93.68M444.72 98.56L449.11 94.46M437.47 99.85L441.45 95.37M431.04 100.87L433.81 96.95M422.95 102.84L425.43 97.60M444.53 120.89A36.70 36.70 0 0 1 446.05 133.48M449.13 114.54A43.20 43.20 0 0 1 451.88 123.65M452.18 108.23A48.70 48.70 0 0 1 455.79 116.69M455.62 102.44A54.60 54.60 0 0 1 458.91 108.49M455.62 102.44L459.86 99.78M458.91 108.49L463.45 106.38M452.18 108.23L457.36 105.41M455.79 116.69L466.18 113.38M449.13 114.54L454.19 112.38M451.88 123.65L468.01 120.67M444.53 120.89L450.76 119.02M451.33 129.13A42.00 42.00 0 0 1 450.83 138.37M451.33 129.13L468.90 128.13M458.08 134.90A48.80 48.80 0 0 1 456.57 143.99M458.08 134.90L468.86 135.65M463.35 142.20A55.00 55.00 0 0 1 461.57 148.91M463.35 142.20L467.86 143.10M461.57 148.91L465.94 150.36M456.57 143.99L462.57 145.58M450.83 138.37L457.54 139.48M446.05 133.48L451.34 133.76M440.87 127.72L445.84 127.12M429.68 116.88L435.12 112.97M432.03 151.20A30.00 30.00 0 0 1 413.49 161.22M444.17 155.59A42.30 42.30 0 0 1 438.05 162.62M451.87 155.33A48.70 48.70 0 0 1 446.63 162.89M458.61 155.16A54.60 54.60 0 0 1 455.24 161.17M458.61 155.16L463.11 157.33M455.24 161.17L459.44 163.88M451.87 155.33L457.02 158.22M446.63 162.89L454.96 169.92M444.17 155.59L449.43 159.24M438.05 162.62L449.76 175.35M432.03 151.20L441.30 159.28M422.08 166.26A37.00 37.00 0 0 1 406.58 168.39M428.05 169.13A42.00 42.00 0 0 1 419.35 172.30M434.68 172.30A48.00 48.00 0 0 1 426.55 176.33M440.68 175.52A54.00 54.00 0 0 1 434.89 179.10M440.68 175.52L443.93 180.08M434.89 179.10L437.54 184.04M434.68 172.30L437.84 177.40M426.55 176.33L430.70 187.16M428.05 169.13L430.71 174.51M419.35 172.30L423.53 189.40M422.08 166.26L423.79 170.96M411.85 180.44A49.00 49.00 0 0 1 399.55 179.50M415.55 185.65A54.50 54.50 0 0 1 408.69 186.00M415.55 185.65L416.13 190.72M408.69 186.00L408.62 191.09M411.85 180.44L412.12 185.93M401.83 185.47A54.50 54.50 0 0 1 395.10 184.09M401.83 185.47L401.13 190.52M395.10 184.09L393.76 189.01M399.55 179.50L398.45 184.89M406.58 168.39L405.67 180.36M413.49 161.22L414.44 168.15M421.29 153.49L423.67 157.89M427.63 135.68L433.77 137.09M427.63 135.68A18.70 18.70 0 0 1 414.14 149.59" fill="none" stroke="#2a2aff" stroke-width="0.8" stroke-linecap="square"/>
<path d="M412.44 143.11A12.00 12.00 0 0 1 400.62 139.68M412.44 143.11L414.14 149.59M404.65 135.93L400.62 139.68" fill="none" stroke="#222" stroke-width="0.7" stroke-linecap="square"/>
<text x="356.37" y="138.78" transform="rotate(353.9 356.37 138.78)" text-anchor="start" font-size="2.8" font-weight="bold" fill="#333" dy="0.95">53</text>
<text x="361.72" y="133.67" transform="rotate(359.3 361.72 133.67)" text-anchor="start" font-size="2.8" font-weight="bold" fill="#333" dy="0.95">98</text>
<text x="368.04" y="129.02" transform="rotate(365.6 368.04 129.02)" text-anchor="start" font-size="2.8" font-weight="bold" fill="#333" dy="0.95">100</text>
<text x="359.74" y="112.35" transform="rotate(382.8 359.74 112.35)" text-anchor="start" font-size="2.8" font-weight="bold" fill="#333" dy="0.95">99</text>
<text x="367.80" y="97.83" transform="rotate(397.3 367.80 97.83)" text-anchor="start" font-size="2.8" font-weight="bold" fill="#333" dy="0.95">99</text>
<text x="366.88" y="108.75" transform="rotate(390.0 366.88 108.75)" text-anchor="start" font-size="2.8" font-weight="bold" fill="#333" dy="0.95">100</text>
<text x="389.39" y="82.18" transform="rotate(426.2 389.39 82.18)" text-anchor="start" font-size="2.8" font-weight="bold" fill="#333" dy="0.95">97</text>
<text x="387.16" y="88.48" transform="rotate(420.8 387.16 88.48)" text-anchor="start" font-size="2.8" font-weight="bold" fill="#333" dy="0.95">99</text>
<text x="386.75" y="97.05" transform="rotate(414.4 386.75 97.05)" text-anchor="start" font-size="2.8" font-weight="bold" fill="#333" dy="0.95">100</text>
<text x="384.20" y="106.45" transform="rotate(402.2 384.20 106.45)" text-anchor="start" font-size="2.8" font-weight="bold" fill="#333" dy="0.95">100</text>
<text x="381.15" y="120.71" transform="rotate(383.9 381.15 120.71)" text-anchor="start" font-size="2.8" font-weight="bold" fill="#333" dy="0.95">100</text>
<text x="387.16" y="180.63" transform="rotate(296.1 387.16 180.63)" text-anchor="start" font-size="2.8" font-weight="bold" fill="#333" dy="0.95">92</text>
<text x="385.39" y="173.78" transform="rotate(301.5 385.39 173.78)" text-anchor="start" font-size="2.8" font-weight="bold" fill="#333" dy="0.95">97</text>
<text x="384.18" y="166.61" transform="rotate(307.8 384.18 166.61)" text-anchor="start" font-size="2.8" font-weight="bold" fill="#333" dy="0.95">100</text>
<text x="358.56" y="148.87" transform="rotate(339.4 358.56 148.87)" text-anchor="start" font-size="2.8" font-weight="bold" fill="#333" dy="0.95">95</text>
<text x="365.37" y="151.18" transform="rotate(334.0 365.37 151.18)" text-anchor="start" font-size="2.8" font-weight="bold" fill="#333" dy="0.95">99</text>
<text x="373.13" y="152.55" transform="rotate(327.7 373.13 152.55)" text-anchor="start" font-size="2.8" font-weight="bold" fill="#333" dy="0.95">100</text>
<text x="382.72" y="157.90" transform="rotate(317.7 382.72 157.90)" text-anchor="start" font-size="2.8" font-weight="bold" fill="#333" dy="0.95">100</text>
<text x="411.16" y="78.30" transform="rotate(-86.4 411.16 78.30)" text-anchor="end" font-size="2.8" font-weight="bold" fill="#333" dy="0.95">87</text>
<text x="415.34" y="83.94" transform="rotate(-81.0 415.34 83.94)" text-anchor="end" font-size="2.8" font-weight="bold" fill="#333" dy="0.95">97</text>
<text x="418.77" y="91.35" transform="rotate(-74.6 418.77 91.35)" text-anchor="end" font-size="2.8" font-weight="bold" fill="#333" dy="0.95">100</text>
<text x="449.62" y="96.18" transform="rotate(-43.0 449.62 96.18)" text-anchor="end" font-size="2.8" font-weight="bold" fill="#333" dy="0.95">98</text>
<text x="442.12" y="97.03" transform="rotate(-48.4 442.12 97.03)" text-anchor="end" font-size="2.8" font-weight="bold" fill="#333" dy="0.95">71</text>
<text x="434.66" y="98.53" transform="rotate(-54.8 434.66 98.53)" text-anchor="end" font-size="2.8" font-weight="bold" fill="#333" dy="0.95">100</text>
<text x="423.64" y="97.64" transform="rotate(-64.7 423.64 97.64)" text-anchor="end" font-size="2.8" font-weight="bold" fill="#333" dy="0.95">100</text>
<text x="455.90" y="104.39" transform="rotate(-28.5 455.90 104.39)" text-anchor="end" font-size="2.8" font-weight="bold" fill="#333" dy="0.95">72</text>
<text x="452.82" y="111.22" transform="rotate(-23.1 452.82 111.22)" text-anchor="end" font-size="2.8" font-weight="bold" fill="#333" dy="0.95">98</text>
<text x="449.53" y="117.72" transform="rotate(-16.8 449.53 117.72)" text-anchor="end" font-size="2.8" font-weight="bold" fill="#333" dy="0.95">100</text>
<text x="461.38" y="146.92" transform="rotate(14.8 461.38 146.92)" text-anchor="end" font-size="2.8" font-weight="bold" fill="#333" dy="0.95">90</text>
<text x="456.49" y="140.93" transform="rotate(9.4 456.49 140.93)" text-anchor="end" font-size="2.8" font-weight="bold" fill="#333" dy="0.95">71</text>
<text x="450.45" y="135.32" transform="rotate(3.1 450.45 135.32)" text-anchor="end" font-size="2.8" font-weight="bold" fill="#333" dy="0.95">100</text>
<text x="445.23" y="128.80" transform="rotate(-6.9 445.23 128.80)" text-anchor="end" font-size="2.8" font-weight="bold" fill="#333" dy="0.95">100</text>
<text x="433.53" y="112.14" transform="rotate(-35.8 433.53 112.14)" text-anchor="end" font-size="2.8" font-weight="bold" fill="#333" dy="0.95">41</text>
<text x="457.10" y="156.43" transform="rotate(29.3 457.10 156.43)" text-anchor="end" font-size="2.8" font-weight="bold" fill="#333" dy="0.95">97</text>
<text x="449.68" y="157.47" transform="rotate(34.7 449.68 157.47)" text-anchor="end" font-size="2.8" font-weight="bold" fill="#333" dy="0.95">100</text>
<text x="441.75" y="157.54" transform="rotate(41.0 441.75 157.54)" text-anchor="end" font-size="2.8" font-weight="bold" fill="#333" dy="0.95">100</text>
<text x="438.78" y="175.88" transform="rotate(58.2 438.78 175.88)" text-anchor="end" font-size="2.8" font-weight="bold" fill="#333" dy="0.95">96</text>
<text x="431.79" y="173.08" transform="rotate(63.6 431.79 173.08)" text-anchor="end" font-size="2.8" font-weight="bold" fill="#333" dy="0.95">99</text>
<text x="425.02" y="169.66" transform="rotate(70.0 425.02 169.66)" text-anchor="end" font-size="2.8" font-weight="bold" fill="#333" dy="0.95">100</text>
<text x="413.68" y="185.05" transform="rotate(87.1 413.68 185.05)" text-anchor="end" font-size="2.8" font-weight="bold" fill="#333" dy="0.95">72</text>
<text x="397.04" y="183.78" transform="rotate(281.6 397.04 183.78)" text-anchor="start" font-size="2.8" font-weight="bold" fill="#333" dy="0.95">98</text>
<text x="404.14" y="179.44" transform="rotate(274.4 404.14 179.44)" text-anchor="start" font-size="2.8" font-weight="bold" fill="#333" dy="0.95">99</text>
<text x="412.75" y="167.58" transform="rotate(82.2 412.75 167.58)" text-anchor="end" font-size="2.8" font-weight="bold" fill="#333" dy="0.95">71</text>
<text x="421.88" y="157.95" transform="rotate(61.6 421.88 157.95)" text-anchor="end" font-size="2.8" font-weight="bold" fill="#333" dy="0.95">52</text>
<text x="433.35" y="135.35" transform="rotate(12.9 433.35 135.35)" text-anchor="end" font-size="2.8" font-weight="bold" fill="#333" dy="0.95">100</text>
<text x="412.39" y="149.22" transform="rotate(75.3 412.39 149.22)" text-anchor="end" font-size="2.8" font-weight="bold" fill="#333" dy="0.95">67</text>
<circle cx="409.40" cy="66.40" r="2.9" fill="#00ff00"/>
<text x="409.40" y="61.80" transform="rotate(-90.00 409.40 61.80)" text-anchor="start" font-size="5.65" letter-spacing="0.13" font-weight="bold" fill="#000" stroke="#000" stroke-width="0.18" dy="2.41">ORUFI12G22660</text>
<circle cx="417.59" cy="66.92" r="2.9" fill="#0000ff"/>
<text x="418.17" y="62.35" transform="rotate(-82.77 418.17 62.35)" text-anchor="start" font-size="5.65" letter-spacing="0.13" font-weight="bold" fill="#000" stroke="#000" stroke-width="0.18" dy="2.41">ONIVA03G07560</text>
<circle cx="425.66" cy="68.46" r="2.9" fill="#ffee00"/>
<text x="426.80" y="64.01" transform="rotate(-75.54 426.80 64.01)" text-anchor="start" font-size="5.65" letter-spacing="0.13" font-weight="bold" fill="#000" stroke="#000" stroke-width="0.18" dy="2.41">Os9311G1225210000</text>
<circle cx="433.46" cy="71.01" r="2.9" fill="#ff0000"/>
<text x="435.16" y="66.73" transform="rotate(-68.31 435.16 66.73)" text-anchor="start" font-size="5.65" letter-spacing="0.13" font-weight="bold" fill="#000" stroke="#000" stroke-width="0.18" dy="2.41">OsMDH12.1</text>
<circle cx="440.88" cy="74.52" r="2.9" fill="#ff0000"/>
<text x="443.11" y="70.49" transform="rotate(-61.08 443.11 70.49)" text-anchor="start" font-size="5.65" letter-spacing="0.13" font-weight="bold" fill="#000" stroke="#000" stroke-width="0.18" dy="2.41">OsMDH3.1</text>
<circle cx="447.80" cy="78.93" r="2.9" fill="#ffee00"/>
<text x="450.52" y="75.22" transform="rotate(-53.85 450.52 75.22)" text-anchor="start" font-size="5.65" letter-spacing="0.13" font-weight="bold" fill="#000" stroke="#000" stroke-width="0.18" dy="2.41">Os9311G0306557000</text>
<circle cx="454.11" cy="84.18" r="2.9" fill="#00ff00"/>
<text x="457.27" y="80.84" transform="rotate(-46.62 457.27 80.84)" text-anchor="start" font-size="5.65" letter-spacing="0.13" font-weight="bold" fill="#000" stroke="#000" stroke-width="0.18" dy="2.41">ORUFI03G37250</text>
<circle cx="459.71" cy="90.19" r="2.9" fill="#0000ff"/>
<text x="463.27" y="87.27" transform="rotate(-39.39 463.27 87.27)" text-anchor="start" font-size="5.65" letter-spacing="0.13" font-weight="bold" fill="#000" stroke="#000" stroke-width="0.18" dy="2.41">ONIVA03G37230</text>
<circle cx="464.51" cy="96.85" r="2.9" fill="#00ff00"/>
<text x="468.41" y="94.40" transform="rotate(-32.16 468.41 94.40)" text-anchor="start" font-size="5.65" letter-spacing="0.13" font-weight="bold" fill="#000" stroke="#000" stroke-width="0.18" dy="2.41">ORUFI05G28560</text>
<circle cx="468.43" cy="104.06" r="2.9" fill="#0000ff"/>
<text x="472.61" y="102.12" transform="rotate(-24.93 472.61 102.12)" text-anchor="start" font-size="5.65" letter-spacing="0.13" font-weight="bold" fill="#000" stroke="#000" stroke-width="0.18" dy="2.41">ONIVA05G28700</text>
<circle cx="471.42" cy="111.71" r="2.9" fill="#ffee00"/>
<text x="475.80" y="110.31" transform="rotate(-17.70 475.80 110.31)" text-anchor="start" font-size="5.65" letter-spacing="0.13" font-weight="bold" fill="#000" stroke="#000" stroke-width="0.18" dy="2.41">Os9311G0510682000</text>
<circle cx="473.42" cy="119.67" r="2.9" fill="#ff0000"/>
<text x="477.94" y="118.83" transform="rotate(-10.47 477.94 118.83)" text-anchor="start" font-size="5.65" letter-spacing="0.13" font-weight="bold" fill="#000" stroke="#000" stroke-width="0.18" dy="2.41">OsMDH5.1</text>
<circle cx="474.40" cy="127.82" r="2.9" fill="#0000ff"/>
<text x="478.99" y="127.56" transform="rotate(-3.24 478.99 127.56)" text-anchor="start" font-size="5.65" letter-spacing="0.13" font-weight="bold" fill="#000" stroke="#000" stroke-width="0.18" dy="2.41">ONIVA01G28010</text>
<circle cx="474.34" cy="136.03" r="2.9" fill="#ff0000"/>
<text x="478.93" y="136.35" transform="rotate(3.99 478.93 136.35)" text-anchor="start" font-size="5.65" letter-spacing="0.13" font-weight="bold" fill="#000" stroke="#000" stroke-width="0.18" dy="2.41">OsMDH1.2</text>
<circle cx="473.26" cy="144.17" r="2.9" fill="#ffee00"/>
<text x="477.77" y="145.06" transform="rotate(11.22 477.77 145.06)" text-anchor="start" font-size="5.65" letter-spacing="0.13" font-weight="bold" fill="#000" stroke="#000" stroke-width="0.18" dy="2.41">Os9311G0101153100</text>
<circle cx="471.15" cy="152.10" r="2.9" fill="#00ff00"/>
<text x="475.52" y="153.56" transform="rotate(18.45 475.52 153.56)" text-anchor="start" font-size="5.65" letter-spacing="0.13" font-weight="bold" fill="#000" stroke="#000" stroke-width="0.18" dy="2.41">ORUFI01G27600</text>
<circle cx="468.07" cy="159.71" r="2.9" fill="#00ff00"/>
<text x="472.22" y="161.70" transform="rotate(25.68 472.22 161.70)" text-anchor="start" font-size="5.65" letter-spacing="0.13" font-weight="bold" fill="#000" stroke="#000" stroke-width="0.18" dy="2.41">ORUFI07G24280</text>
<circle cx="464.05" cy="166.87" r="2.9" fill="#0000ff"/>
<text x="467.91" y="169.37" transform="rotate(32.91 467.91 169.37)" text-anchor="start" font-size="5.65" letter-spacing="0.13" font-weight="bold" fill="#000" stroke="#000" stroke-width="0.18" dy="2.41">ONIVA07G22970</text>
<circle cx="459.17" cy="173.47" r="2.9" fill="#ffee00"/>
<text x="462.68" y="176.43" transform="rotate(40.14 462.68 176.43)" text-anchor="start" font-size="5.65" letter-spacing="0.13" font-weight="bold" fill="#000" stroke="#000" stroke-width="0.18" dy="2.41">Os9311G0714161600</text>
<circle cx="453.49" cy="179.40" r="2.9" fill="#ff0000"/>
<text x="456.61" y="182.78" transform="rotate(47.37 456.61 182.78)" text-anchor="start" font-size="5.65" letter-spacing="0.13" font-weight="bold" fill="#000" stroke="#000" stroke-width="0.18" dy="2.41">OsMDH7.1</text>
<circle cx="447.11" cy="184.56" r="2.9" fill="#ffee00"/>
<text x="449.78" y="188.31" transform="rotate(54.60 449.78 188.31)" text-anchor="start" font-size="5.65" letter-spacing="0.13" font-weight="bold" fill="#000" stroke="#000" stroke-width="0.18" dy="2.41">Os9311G0101603200</text>
<circle cx="440.13" cy="188.89" r="2.9" fill="#0000ff"/>
<text x="442.30" y="192.94" transform="rotate(61.83 442.30 192.94)" text-anchor="start" font-size="5.65" letter-spacing="0.13" font-weight="bold" fill="#000" stroke="#000" stroke-width="0.18" dy="2.41">ONIVA01G40930</text>
<circle cx="432.67" cy="192.30" r="2.9" fill="#ff0000"/>
<text x="434.31" y="196.60" transform="rotate(69.06 434.31 196.60)" text-anchor="start" font-size="5.65" letter-spacing="0.13" font-weight="bold" fill="#000" stroke="#000" stroke-width="0.18" dy="2.41">OsMDH1</text>
<circle cx="424.83" cy="194.75" r="2.9" fill="#00ff00"/>
<text x="425.92" y="199.21" transform="rotate(76.29 425.92 199.21)" text-anchor="start" font-size="5.65" letter-spacing="0.13" font-weight="bold" fill="#000" stroke="#000" stroke-width="0.18" dy="2.41">ORUFI01G39220</text>
<circle cx="416.75" cy="196.18" r="2.9" fill="#ff0000"/>
<text x="417.27" y="200.75" transform="rotate(83.52 417.27 200.75)" text-anchor="start" font-size="5.65" letter-spacing="0.13" font-weight="bold" fill="#000" stroke="#000" stroke-width="0.18" dy="2.41">OsMDH8.1</text>
<circle cx="408.55" cy="196.59" r="2.9" fill="#00ff00"/>
<text x="408.49" y="201.19" transform="rotate(90.75 408.49 201.19)" text-anchor="start" font-size="5.65" letter-spacing="0.13" font-weight="bold" fill="#000" stroke="#000" stroke-width="0.18" dy="2.41">ORUFI08G17670</text>
<circle cx="400.36" cy="195.97" r="2.9" fill="#ffee00"/>
<text x="399.72" y="200.53" transform="rotate(97.98 399.72 200.53)" text-anchor="start" font-size="5.65" letter-spacing="0.13" font-weight="bold" fill="#000" stroke="#000" stroke-width="0.18" dy="2.41">Os9311G0815610800</text>
<circle cx="392.32" cy="194.32" r="2.9" fill="#0000ff"/>
<text x="391.11" y="198.76" transform="rotate(105.21 391.11 198.76)" text-anchor="start" font-size="5.65" letter-spacing="0.13" font-weight="bold" fill="#000" stroke="#000" stroke-width="0.18" dy="2.41">ONIVA08G16980</text>
<circle cx="384.55" cy="191.67" r="2.9" fill="#00ff00"/>
<text x="382.34" y="197.03" transform="rotate(292.44 382.34 197.03)" text-anchor="end" font-size="5.65" letter-spacing="0.13" font-weight="bold" fill="#000" stroke="#000" stroke-width="0.18" dy="1.61">ORUFI06G09290</text>
<circle cx="377.18" cy="188.06" r="2.9" fill="#0000ff"/>
<text x="374.30" y="193.10" transform="rotate(299.67 374.30 193.10)" text-anchor="end" font-size="5.65" letter-spacing="0.13" font-weight="bold" fill="#000" stroke="#000" stroke-width="0.18" dy="1.61">ONIVA06G08260</text>
<circle cx="370.31" cy="183.56" r="2.9" fill="#ffee00"/>
<text x="366.83" y="188.20" transform="rotate(306.90 366.83 188.20)" text-anchor="end" font-size="5.65" letter-spacing="0.13" font-weight="bold" fill="#000" stroke="#000" stroke-width="0.18" dy="1.61">Os9311G0610888200</text>
<circle cx="364.07" cy="178.23" r="2.9" fill="#ff0000"/>
<text x="360.03" y="182.39" transform="rotate(314.13 360.03 182.39)" text-anchor="end" font-size="5.65" letter-spacing="0.13" font-weight="bold" fill="#000" stroke="#000" stroke-width="0.18" dy="1.61">OsMDH6.1</text>
<circle cx="358.55" cy="172.15" r="2.9" fill="#ff0000"/>
<text x="354.02" y="175.77" transform="rotate(321.36 354.02 175.77)" text-anchor="end" font-size="5.65" letter-spacing="0.13" font-weight="bold" fill="#000" stroke="#000" stroke-width="0.18" dy="1.61">OsMDH2.1</text>
<circle cx="353.84" cy="165.43" r="2.9" fill="#ffee00"/>
<text x="348.89" y="168.45" transform="rotate(328.59 348.89 168.45)" text-anchor="end" font-size="5.65" letter-spacing="0.13" font-weight="bold" fill="#000" stroke="#000" stroke-width="0.18" dy="1.61">Os9311G0201959700</text>
<circle cx="350.01" cy="158.17" r="2.9" fill="#00ff00"/>
<text x="344.72" y="160.54" transform="rotate(335.82 344.72 160.54)" text-anchor="end" font-size="5.65" letter-spacing="0.13" font-weight="bold" fill="#000" stroke="#000" stroke-width="0.18" dy="1.61">ORUFI02G00480</text>
<circle cx="347.13" cy="150.48" r="2.9" fill="#0000ff"/>
<text x="341.58" y="152.17" transform="rotate(343.05 341.58 152.17)" text-anchor="end" font-size="5.65" letter-spacing="0.13" font-weight="bold" fill="#000" stroke="#000" stroke-width="0.18" dy="1.61">ONIVA02G00460</text>
<circle cx="345.23" cy="142.49" r="2.9" fill="#ff0000"/>
<text x="339.52" y="143.47" transform="rotate(350.28 339.52 143.47)" text-anchor="end" font-size="5.65" letter-spacing="0.13" font-weight="bold" fill="#000" stroke="#000" stroke-width="0.18" dy="1.61">OsMDH8.2</text>
<circle cx="344.36" cy="134.33" r="2.9" fill="#00ff00"/>
<text x="338.57" y="134.58" transform="rotate(357.51 338.57 134.58)" text-anchor="end" font-size="5.65" letter-spacing="0.13" font-weight="bold" fill="#000" stroke="#000" stroke-width="0.18" dy="1.61">ORUFI08G26240</text>
<circle cx="344.52" cy="126.12" r="2.9" fill="#ffee00"/>
<text x="338.74" y="125.64" transform="rotate(364.74 338.74 125.64)" text-anchor="end" font-size="5.65" letter-spacing="0.13" font-weight="bold" fill="#000" stroke="#000" stroke-width="0.18" dy="1.61">Os9311G0816075100</text>
<circle cx="345.72" cy="118.00" r="2.9" fill="#0000ff"/>
<text x="340.04" y="116.80" transform="rotate(371.97 340.04 116.80)" text-anchor="end" font-size="5.65" letter-spacing="0.13" font-weight="bold" fill="#000" stroke="#000" stroke-width="0.18" dy="1.61">ONIVA08G26800</text>
<circle cx="347.92" cy="110.09" r="2.9" fill="#ff0000"/>
<text x="342.44" y="108.18" transform="rotate(379.20 342.44 108.18)" text-anchor="end" font-size="5.65" letter-spacing="0.13" font-weight="bold" fill="#000" stroke="#000" stroke-width="0.18" dy="1.61">OsMDH4.1</text>
<circle cx="351.10" cy="102.52" r="2.9" fill="#00ff00"/>
<text x="345.91" y="99.94" transform="rotate(386.43 345.91 99.94)" text-anchor="end" font-size="5.65" letter-spacing="0.13" font-weight="bold" fill="#000" stroke="#000" stroke-width="0.18" dy="1.61">ORUFI04G22520</text>
<circle cx="355.21" cy="95.42" r="2.9" fill="#ffee00"/>
<text x="350.39" y="92.20" transform="rotate(393.66 350.39 92.20)" text-anchor="end" font-size="5.65" letter-spacing="0.13" font-weight="bold" fill="#000" stroke="#000" stroke-width="0.18" dy="1.61">Os9311G0408460100</text>
<circle cx="360.19" cy="88.88" r="2.9" fill="#0000ff"/>
<text x="355.80" y="85.09" transform="rotate(400.89 355.80 85.09)" text-anchor="end" font-size="5.65" letter-spacing="0.13" font-weight="bold" fill="#000" stroke="#000" stroke-width="0.18" dy="1.61">ONIVA04G19170</text>
<circle cx="365.94" cy="83.03" r="2.9" fill="#ff0000"/>
<text x="362.07" y="78.71" transform="rotate(408.12 362.07 78.71)" text-anchor="end" font-size="5.65" letter-spacing="0.13" font-weight="bold" fill="#000" stroke="#000" stroke-width="0.18" dy="1.61">OsMDH10.1</text>
<circle cx="372.39" cy="77.95" r="2.9" fill="#ffee00"/>
<text x="369.09" y="73.17" transform="rotate(415.35 369.09 73.17)" text-anchor="end" font-size="5.65" letter-spacing="0.13" font-weight="bold" fill="#000" stroke="#000" stroke-width="0.18" dy="1.61">Os9311G1020508500</text>
<circle cx="379.42" cy="73.71" r="2.9" fill="#00ff00"/>
<text x="376.75" y="68.57" transform="rotate(422.58 376.75 68.57)" text-anchor="end" font-size="5.65" letter-spacing="0.13" font-weight="bold" fill="#000" stroke="#000" stroke-width="0.18" dy="1.61">ORUFI10G14650</text>
<circle cx="386.93" cy="70.40" r="2.9" fill="#0000ff"/>
<text x="384.93" y="64.96" transform="rotate(429.81 384.93 64.96)" text-anchor="end" font-size="5.65" letter-spacing="0.13" font-weight="bold" fill="#000" stroke="#000" stroke-width="0.18" dy="1.61">ONIVA10G14580</text>
<circle cx="258" cy="220" r="3.1" fill="#ff0000"/>
<path d="M258 225.1L261.2 228.7L258 232.29999999999998L254.8 228.7Z" fill="#ffee00"/>
<rect x="255.6" y="234.20000000000002" width="4.8" height="5.2" fill="#ff00ff"/>
<rect x="256.3" y="243.60000000000002" width="3.4" height="3.4" fill="#fff" stroke="#0000ff" stroke-width="0.7"/>
<path d="M258 250.6L260.7 255.9L255.3 255.9Z" fill="#fff" stroke="#00ff00" stroke-width="0.7"/>
<text x="266.3" y="222.4" font-size="5.8" fill="#111" stroke="#111" stroke-width="0.1" font-style="italic">Oryza sativa</text>
<text x="266.3" y="231.1" font-size="5.8" fill="#111" stroke="#111" stroke-width="0.1">maize</text>
<text x="266.3" y="239.20000000000002" font-size="5.8" fill="#111" stroke="#111" stroke-width="0.1">wheat</text>
<text x="266.3" y="247.5" font-size="5.8" fill="#111" stroke="#111" stroke-width="0.1" font-style="italic">Arabidopsis thaliana</text>
<text x="266.3" y="255.8" font-size="5.8" fill="#111" stroke="#111" stroke-width="0.1">cotton</text>
<path d="M223 233.1H233.8" stroke="#ff7070" stroke-width="0.8"/>
<text x="239.5" y="235.1" font-size="5.6" fill="#555">I</text>
<path d="M223 242.5H233.8" stroke="#ffee00" stroke-width="0.8"/>
<text x="239.5" y="244.5" font-size="5.6" fill="#555">II</text>
<path d="M223 251.6H233.8" stroke="#7070ff" stroke-width="0.8"/>
<text x="239.5" y="253.6" font-size="5.6" fill="#555">III</text>
<circle cx="491.7" cy="229.8" r="2.9" fill="#ff0000"/>
<text x="498.3" y="232.0" font-size="6.4" font-style="italic" fill="#111" stroke="#111" stroke-width="0.1">japonica</text>
<circle cx="491.7" cy="237.9" r="2.9" fill="#ffee00"/>
<text x="498.3" y="240.1" font-size="6.4" font-style="italic" fill="#111" stroke="#111" stroke-width="0.1">indica</text>
<circle cx="491.7" cy="246.2" r="2.9" fill="#00ff00"/>
<text x="498.3" y="248.39999999999998" font-size="6.4" font-style="italic" fill="#111" stroke="#111" stroke-width="0.1">Oryza rufipogon</text>
<circle cx="491.7" cy="254.3" r="2.9" fill="#0000ff"/>
<text x="498.3" y="256.5" font-size="6.4" font-style="italic" fill="#111" stroke="#111" stroke-width="0.1">Oryza nivara</text>
</svg>
</body></html>
